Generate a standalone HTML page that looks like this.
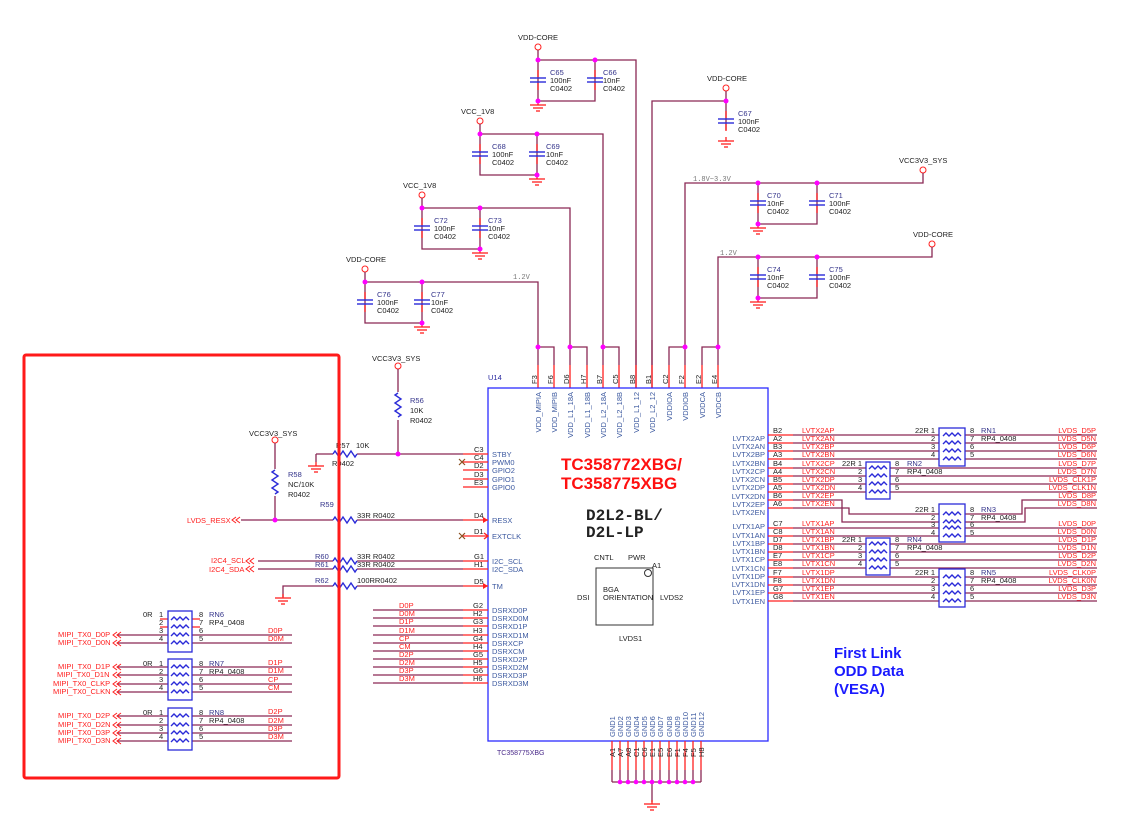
<!DOCTYPE html>
<html><head><meta charset="utf-8"><style>
html,body{margin:0;padding:0;background:#fff;}
svg{display:block;font-family:"Liberation Sans",sans-serif;}
.w{stroke:#8a2855;stroke-width:1.3;fill:none}
.p{stroke:#ff2020;stroke-width:1.3;fill:none}
.b{stroke:#2b2bd8;stroke-width:1.4;fill:none}
.t{font-size:7.5px;fill:#222}
.bl{font-size:7.5px;fill:#3d5aa0}
.cl{font-size:7.5px;fill:#33338a}
.r{font-size:7.5px;fill:#ff2020}
.dot{fill:#ff00ff}
</style></head><body>
<svg width="1132" height="829" viewBox="0 0 1132 829" xmlns="http://www.w3.org/2000/svg">
<defs>
<g id="cap"><line class="b" x1="-8" y1="-2" x2="8" y2="-2"/><line class="b" x1="-8" y1="2" x2="8" y2="2"/><line class="p" x1="0" y1="-10" x2="0" y2="-3"/><line class="p" x1="0" y1="3" x2="0" y2="10"/></g>
<g id="gnd"><line class="p" x1="0" y1="0" x2="0" y2="4"/><line class="p" x1="-8" y1="4" x2="8" y2="4"/><line class="p" x1="-5" y1="7" x2="5" y2="7"/><line class="p" x1="-2" y1="10" x2="2" y2="10"/></g>
<g id="rh"><path class="b" d="M0,0 l2,-3 l4,6 l4,-6 l4,6 l4,-6 l4,6 l2,-3"/></g>
<g id="rv"><path class="b" d="M0,0 l-3,2 l6,4 l-6,4 l6,4 l-6,4 l6,4 l-3,2"/></g>
<g id="zz"><path class="b" d="M3,0 l3,-3 l3,3 l3,-3 l3,3 l3,-3 l3,3"/></g>
</defs>

<!-- ========== top decoupling groups ========== -->
<!-- G1 VDD-CORE C65 C66 -->
<text class="t" x="518" y="40">VDD-CORE</text>
<circle cx="538" cy="47" r="3" fill="#fff" stroke="#ff2020"/>
<path class="w" d="M538,50 V101 M538,60 H636 V388 M595,60 V101 H538"/>
<use href="#cap" x="538" y="80"/><use href="#cap" x="595" y="80"/>
<use href="#gnd" x="538" y="101"/>
<circle class="dot" cx="538" cy="60" r="2.5"/><circle class="dot" cx="595" cy="60" r="2.5"/><circle class="dot" cx="538" cy="101" r="2.5"/>
<text class="cl" x="550" y="75">C65</text><text class="t" x="550" y="83">100nF</text><text class="t" x="550" y="91">C0402</text>
<text class="cl" x="603" y="75">C66</text><text class="t" x="603" y="83">10nF</text><text class="t" x="603" y="91">C0402</text>

<!-- C67 -->
<text class="t" x="707" y="81">VDD-CORE</text>
<circle cx="726" cy="88" r="3" fill="#fff" stroke="#ff2020"/>
<path class="w" d="M726,91 V130 M726,101 H652 V388"/>
<use href="#cap" x="726" y="121"/><use href="#gnd" x="726" y="137"/>
<circle class="dot" cx="726" cy="101" r="2.5"/>
<text class="cl" x="738" y="116">C67</text><text class="t" x="738" y="124">100nF</text><text class="t" x="738" y="132">C0402</text>

<!-- G2 VCC_1V8 C68 C69 -->
<text class="t" x="461" y="114">VCC_1V8</text>
<circle cx="480" cy="121" r="3" fill="#fff" stroke="#ff2020"/>
<path class="w" d="M480,124 V175 H537 M480,134 H603 V347 M537,134 V175"/>
<use href="#cap" x="480" y="154"/><use href="#cap" x="537" y="154"/>
<use href="#gnd" x="537" y="175"/>
<circle class="dot" cx="480" cy="134" r="2.5"/><circle class="dot" cx="537" cy="134" r="2.5"/><circle class="dot" cx="537" cy="175" r="2.5"/>
<text class="cl" x="492" y="149">C68</text><text class="t" x="492" y="157">100nF</text><text class="t" x="492" y="165">C0402</text>
<text class="cl" x="546" y="149">C69</text><text class="t" x="546" y="157">10nF</text><text class="t" x="546" y="165">C0402</text>

<!-- G3 VCC_1V8 C72 C73 -->
<text class="t" x="403" y="188">VCC_1V8</text>
<circle cx="422" cy="195" r="3" fill="#fff" stroke="#ff2020"/>
<path class="w" d="M422,198 V249 H480 M422,208 H570 V347 M480,208 V249"/>
<use href="#cap" x="422" y="228"/><use href="#cap" x="480" y="228"/>
<use href="#gnd" x="480" y="249"/>
<circle class="dot" cx="422" cy="208" r="2.5"/><circle class="dot" cx="480" cy="208" r="2.5"/><circle class="dot" cx="480" cy="249" r="2.5"/>
<text class="cl" x="434" y="223">C72</text><text class="t" x="434" y="231">100nF</text><text class="t" x="434" y="239">C0402</text>
<text class="cl" x="488" y="223">C73</text><text class="t" x="488" y="231">10nF</text><text class="t" x="488" y="239">C0402</text>

<!-- G4 VDD-CORE C76 C77 -->
<text class="t" x="346" y="262">VDD-CORE</text>
<circle cx="365" cy="269" r="3" fill="#fff" stroke="#ff2020"/>
<path class="w" d="M365,272 V323 H422 M365,282 H538 V347 M422,282 V323"/>
<use href="#cap" x="365" y="302"/><use href="#cap" x="422" y="302"/>
<use href="#gnd" x="422" y="323"/>
<circle class="dot" cx="365" cy="282" r="2.5"/><circle class="dot" cx="422" cy="282" r="2.5"/><circle class="dot" cx="422" cy="323" r="2.5"/>
<text class="cl" x="377" y="297">C76</text><text class="t" x="377" y="305">100nF</text><text class="t" x="377" y="313">C0402</text>
<text class="cl" x="431" y="297">C77</text><text class="t" x="431" y="305">10nF</text><text class="t" x="431" y="313">C0402</text>
<text x="513" y="279" style="font-family:'Liberation Mono',monospace;font-size:7px;fill:#777">1.2V</text>

<!-- G5 VCC3V3_SYS C70 C71 -->
<text class="t" x="899" y="163">VCC3V3_SYS</text>
<circle cx="923" cy="170" r="3" fill="#fff" stroke="#ff2020"/>
<path class="w" d="M923,173 V183 H685 V347 M758,183 V224 H817 V183"/>
<use href="#cap" x="758" y="203"/><use href="#cap" x="817" y="203"/>
<use href="#gnd" x="758" y="224"/>
<circle class="dot" cx="758" cy="183" r="2.5"/><circle class="dot" cx="817" cy="183" r="2.5"/><circle class="dot" cx="758" cy="224" r="2.5"/>
<text class="cl" x="767" y="198">C70</text><text class="t" x="767" y="206">10nF</text><text class="t" x="767" y="214">C0402</text>
<text class="cl" x="829" y="198">C71</text><text class="t" x="829" y="206">100nF</text><text class="t" x="829" y="214">C0402</text>
<text x="693" y="181" style="font-family:'Liberation Mono',monospace;font-size:7px;fill:#777">1.8V~3.3V</text>

<!-- G6 VDD-CORE C74 C75 -->
<text class="t" x="913" y="237">VDD-CORE</text>
<circle cx="932" cy="244" r="3" fill="#fff" stroke="#ff2020"/>
<path class="w" d="M932,247 V257 H718 V347 M758,257 V298 H817 V257"/>
<use href="#cap" x="758" y="277"/><use href="#cap" x="817" y="277"/>
<use href="#gnd" x="758" y="298"/>
<circle class="dot" cx="758" cy="257" r="2.5"/><circle class="dot" cx="817" cy="257" r="2.5"/><circle class="dot" cx="758" cy="298" r="2.5"/>
<text class="cl" x="767" y="272">C74</text><text class="t" x="767" y="280">10nF</text><text class="t" x="767" y="288">C0402</text>
<text class="cl" x="829" y="272">C75</text><text class="t" x="829" y="280">100nF</text><text class="t" x="829" y="288">C0402</text>
<text x="720" y="255" style="font-family:'Liberation Mono',monospace;font-size:7px;fill:#777">1.2V</text>

<!-- pin pair connections at y=347 -->
<path class="w" d="M538,347 H554 V365 M570,347 H587 V365 M603,347 H619 V365 M669,365 V347 H685 M702,365 V347 H718 M538,347 V365 M570,347 V365 M603,347 V365 M685,347 V365 M718,347 V365 M636,340 V365 M652,340 V365"/>
<circle class="dot" cx="538" cy="347" r="2.5"/><circle class="dot" cx="570" cy="347" r="2.5"/><circle class="dot" cx="603" cy="347" r="2.5"/><circle class="dot" cx="685" cy="347" r="2.5"/><circle class="dot" cx="718" cy="347" r="2.5"/>
<path class="p" d="M538,365 V388 M554,365 V388 M570,365 V388 M587,365 V388 M603,365 V388 M619,365 V388 M636,365 V388 M652,365 V388 M669,365 V388 M685,365 V388 M702,365 V388 M718,365 V388"/>

<!-- top pin labels -->
<g class="t">
<text transform="translate(537,384) rotate(-90)" class="t">F3</text>
<text transform="translate(553,384) rotate(-90)" class="t">F6</text>
<text transform="translate(569,384) rotate(-90)" class="t">D6</text>
<text transform="translate(586,384) rotate(-90)" class="t">H7</text>
<text transform="translate(602,384) rotate(-90)" class="t">B7</text>
<text transform="translate(618,384) rotate(-90)" class="t">C5</text>
<text transform="translate(635,384) rotate(-90)" class="t">B8</text>
<text transform="translate(651,384) rotate(-90)" class="t">B1</text>
<text transform="translate(668,384) rotate(-90)" class="t">C2</text>
<text transform="translate(684,384) rotate(-90)" class="t">F2</text>
<text transform="translate(701,384) rotate(-90)" class="t">E2</text>
<text transform="translate(717,384) rotate(-90)" class="t">E4</text>
</g>
<g text-anchor="end">
<text transform="translate(541,392) rotate(-90)" class="bl">VDD_MIPIA</text>
<text transform="translate(557,392) rotate(-90)" class="bl">VDD_MIPIB</text>
<text transform="translate(573,392) rotate(-90)" class="bl">VDD_L1_18A</text>
<text transform="translate(590,392) rotate(-90)" class="bl">VDD_L1_18B</text>
<text transform="translate(606,392) rotate(-90)" class="bl">VDD_L2_18A</text>
<text transform="translate(622,392) rotate(-90)" class="bl">VDD_L2_18B</text>
<text transform="translate(639,392) rotate(-90)" class="bl">VDD_L1_12</text>
<text transform="translate(655,392) rotate(-90)" class="bl">VDD_L2_12</text>
<text transform="translate(672,392) rotate(-90)" class="bl">VDDIOA</text>
<text transform="translate(688,392) rotate(-90)" class="bl">VDDIOB</text>
<text transform="translate(705,392) rotate(-90)" class="bl">VDDCA</text>
<text transform="translate(721,392) rotate(-90)" class="bl">VDDCB</text>
</g>

<!-- ========== chip body ========== -->
<rect x="488" y="388" width="280" height="353" fill="none" stroke="#2b2bff" stroke-width="1.3"/>
<text x="488" y="380" style="font-size:7.5px;fill:#2a2aa0">U14</text>
<text x="497" y="755" style="font-size:7px;fill:#4a2a8a">TC358775XBG</text>
<text x="561" y="470" style="font-size:17px;font-weight:bold;fill:#ff1010">TC358772XBG/</text>
<text x="561" y="489" style="font-size:17px;font-weight:bold;fill:#ff1010">TC358775XBG</text>
<text x="586" y="520" style="font-family:'Liberation Mono',monospace;font-size:16px;font-weight:bold;fill:#222">D2L2-BL/</text>
<text x="586" y="537" style="font-family:'Liberation Mono',monospace;font-size:16px;font-weight:bold;fill:#222">D2L-LP</text>
<text class="t" x="594" y="560">CNTL</text><text class="t" x="628" y="560">PWR</text>
<rect x="596" y="568" width="57" height="57" fill="none" stroke="#333" stroke-width="1"/>
<circle cx="648" cy="573" r="3.5" fill="none" stroke="#333"/>
<text class="t" x="652" y="568">A1</text>
<text class="t" x="603" y="592">BGA</text><text class="t" x="603" y="600">ORIENTATION</text>
<text class="t" x="577" y="600">DSI</text><text class="t" x="660" y="600">LVDS2</text>
<text class="t" x="619" y="641">LVDS1</text>

<!-- left chip pins -->
<path class="p" d="M463,454 H488 M463,462 H488 M463,470 H488 M463,479 H488 M463,487 H488 M463,520 H488 M463,536 H488 M463,561 H488 M463,569 H488 M463,586 H488"/>
<path d="M483,517 l5,3 l-5,3z M483,583 l5,3 l-5,3z" fill="#ff2020"/>
<path d="M484,533 l4,3 l-4,3" class="p"/>
<path d="M459,459 l6,6 M465,459 l-6,6 M459,533 l6,6 M465,533 l-6,6" stroke="#8a5020" stroke-width="1.2"/>
<g class="t">
<text x="474" y="452">C3</text><text x="474" y="460">C4</text><text x="474" y="468">D2</text><text x="474" y="477">D3</text><text x="474" y="485">E3</text>
<text x="474" y="518">D4</text><text x="474" y="534">D1</text><text x="474" y="559">G1</text><text x="474" y="567">H1</text><text x="474" y="584">D5</text>
</g>
<g class="bl">
<text x="492" y="457">STBY</text><text x="492" y="465">PWM0</text><text x="492" y="473">GPIO2</text><text x="492" y="482">GPIO1</text><text x="492" y="490">GPIO0</text>
<text x="492" y="523">RESX</text><text x="492" y="539">EXTCLK</text><text x="492" y="564">I2C_SCL</text><text x="492" y="572">I2C_SDA</text><text x="492" y="589">TM</text>
</g>

<!-- DSRX pins -->
<path class="w" d="M373,610 H463 M373,618 H463 M373,626 H463 M373,635 H463 M373,643 H463 M373,651 H463 M373,659 H463 M373,667 H463 M373,675 H463 M373,683 H463"/>
<path class="p" d="M463,610 H488 M463,618 H488 M463,626 H488 M463,635 H488 M463,643 H488 M463,651 H488 M463,659 H488 M463,667 H488 M463,675 H488 M463,683 H488"/>
<g class="r">
<text x="399" y="608">D0P</text><text x="399" y="616">D0M</text><text x="399" y="624">D1P</text><text x="399" y="633">D1M</text><text x="399" y="641">CP</text><text x="399" y="649">CM</text><text x="399" y="657">D2P</text><text x="399" y="665">D2M</text><text x="399" y="673">D3P</text><text x="399" y="681">D3M</text>
</g>
<g class="t">
<text x="473" y="608">G2</text><text x="473" y="616">H2</text><text x="473" y="624">G3</text><text x="473" y="633">H3</text><text x="473" y="641">G4</text><text x="473" y="649">H4</text><text x="473" y="657">G5</text><text x="473" y="665">H5</text><text x="473" y="673">G6</text><text x="473" y="681">H6</text>
</g>
<g class="bl">
<text x="492" y="613">DSRXD0P</text><text x="492" y="621">DSRXD0M</text><text x="492" y="629">DSRXD1P</text><text x="492" y="638">DSRXD1M</text><text x="492" y="646">DSRXCP</text><text x="492" y="654">DSRXCM</text><text x="492" y="662">DSRXD2P</text><text x="492" y="670">DSRXD2M</text><text x="492" y="678">DSRXD3P</text><text x="492" y="686">DSRXD3M</text>
</g>

<!-- STBY / R56 / R57 -->
<text class="t" x="372" y="361">VCC3V3_SYS</text>
<circle cx="398" cy="366" r="3" fill="#fff" stroke="#ff2020"/>
<path class="w" d="M398,369 V392 M398,420 V454 M316,454 V462 M316,454 H333 M357,454 H463"/>
<use href="#rv" x="398" y="393"/>
<use href="#rh" x="333" y="454"/>
<use href="#gnd" x="316" y="462"/>
<circle class="dot" cx="398" cy="454" r="2.5"/>
<text class="cl" x="410" y="403">R56</text><text class="t" x="410" y="413">10K</text><text class="t" x="410" y="423">R0402</text>
<text class="t" x="336" y="448">R57</text><text class="t" x="356" y="448">10K</text><text class="t" x="332" y="466">R0402</text>

<!-- R58 / RESX -->
<text class="t" x="249" y="436">VCC3V3_SYS</text>
<circle cx="275" cy="440" r="3" fill="#fff" stroke="#ff2020"/>
<path class="w" d="M275,443 V469 M275,496 V520 M241,520 H333 M357,520 H463"/>
<use href="#rv" x="275" y="470"/>
<use href="#rh" x="333" y="520"/>
<circle class="dot" cx="275" cy="520" r="2.5"/>
<text class="cl" x="288" y="477">R58</text><text class="t" x="288" y="487">NC/10K</text><text class="t" x="288" y="497">R0402</text>
<text class="cl" x="320" y="507">R59</text><text class="t" x="357" y="518">33R R0402</text>
<text class="r" x="187" y="523">LVDS_RESX</text>
<path d="M236,517 l-4,3 l4,3 M240,517 l-4,3 l4,3" stroke="#ff2020" fill="none" stroke-width="1"/>

<!-- I2C / TM -->
<path class="w" d="M258,561 H333 M357,561 H463 M258,569 H333 M357,569 H463 M283,597 V586 H333 M357,586 H463"/>
<use href="#rh" x="333" y="561"/><use href="#rh" x="333" y="569"/><use href="#rh" x="333" y="586"/>
<use href="#gnd" x="283" y="594"/>
<text class="cl" x="315" y="559">R60</text><text class="t" x="357" y="559">33R R0402</text>
<text class="cl" x="315" y="567">R61</text><text class="t" x="357" y="567">33R R0402</text>
<text class="cl" x="315" y="583">R62</text><text class="t" x="357" y="583">100RR0402</text>
<text class="r" x="211" y="563">I2C4_SCL</text><text class="r" x="209" y="572">I2C4_SDA</text>
<path d="M250,558 l-4,3 l4,3 M254,558 l-4,3 l4,3 M250,566 l-4,3 l4,3 M254,566 l-4,3 l4,3" stroke="#ff2020" fill="none" stroke-width="1"/>

<!-- MIPI resistor networks -->
<!-- RN6 -->
<path class="w" d="M117,635 H168 M117,643 H168 M192,635 H292 M192,643 H292"/>
<path class="p" d="M160,619 H168 M160,627 H168 M192,619 H200 M192,627 H200"/>
<rect x="168" y="611" width="24" height="41" fill="#fff" stroke="#2b2bd8" stroke-width="1.3"/>
<use href="#zz" x="168" y="620"/><use href="#zz" x="168" y="628"/><use href="#zz" x="168" y="636"/><use href="#zz" x="168" y="644"/>
<text class="t" x="143" y="617">0R</text>
<g class="t"><text x="159" y="617">1</text><text x="159" y="625">2</text><text x="159" y="633">3</text><text x="159" y="641">4</text><text x="199" y="617">8</text><text x="199" y="625">7</text><text x="199" y="633">6</text><text x="199" y="641">5</text></g>
<text class="cl" x="209" y="617">RN6</text><text class="t" x="209" y="625">RP4_0408</text>
<text class="r" x="268" y="633">D0P</text><text class="r" x="268" y="641">D0M</text>
<text class="r" x="58" y="637">MIPI_TX0_D0P</text><text class="r" x="58" y="645">MIPI_TX0_D0N</text>
<!-- RN7 -->
<path class="w" d="M117,667 H168 M117,675 H168 M117,684 H168 M117,692 H168 M192,667 H292 M192,675 H292 M192,684 H292 M192,692 H292"/>
<rect x="168" y="659" width="24" height="41" fill="#fff" stroke="#2b2bd8" stroke-width="1.3"/>
<use href="#zz" x="168" y="668"/><use href="#zz" x="168" y="676"/><use href="#zz" x="168" y="685"/><use href="#zz" x="168" y="693"/>
<text class="t" x="143" y="666">0R</text>
<g class="t"><text x="159" y="666">1</text><text x="159" y="674">2</text><text x="159" y="682">3</text><text x="159" y="690">4</text><text x="199" y="666">8</text><text x="199" y="674">7</text><text x="199" y="682">6</text><text x="199" y="690">5</text></g>
<text class="cl" x="209" y="666">RN7</text><text class="t" x="209" y="674">RP4_0408</text>
<text class="r" x="268" y="665">D1P</text><text class="r" x="268" y="673">D1M</text><text class="r" x="268" y="682">CP</text><text class="r" x="268" y="690">CM</text>
<text class="r" x="58" y="669">MIPI_TX0_D1P</text><text class="r" x="57" y="677">MIPI_TX0_D1N</text><text class="r" x="53" y="686">MIPI_TX0_CLKP</text><text class="r" x="53" y="694">MIPI_TX0_CLKN</text>
<!-- RN8 -->
<path class="w" d="M117,716 H168 M117,725 H168 M117,733 H168 M117,741 H168 M192,716 H292 M192,725 H292 M192,733 H292 M192,741 H292"/>
<rect x="168" y="708" width="24" height="42" fill="#fff" stroke="#2b2bd8" stroke-width="1.3"/>
<use href="#zz" x="168" y="717"/><use href="#zz" x="168" y="726"/><use href="#zz" x="168" y="734"/><use href="#zz" x="168" y="742"/>
<text class="t" x="143" y="715">0R</text>
<g class="t"><text x="159" y="715">1</text><text x="159" y="723">2</text><text x="159" y="731">3</text><text x="159" y="739">4</text><text x="199" y="715">8</text><text x="199" y="723">7</text><text x="199" y="731">6</text><text x="199" y="739">5</text></g>
<text class="cl" x="209" y="715">RN8</text><text class="t" x="209" y="723">RP4_0408</text>
<text class="r" x="268" y="714">D2P</text><text class="r" x="268" y="723">D2M</text><text class="r" x="268" y="731">D3P</text><text class="r" x="268" y="739">D3M</text>
<text class="r" x="58" y="718">MIPI_TX0_D2P</text><text class="r" x="58" y="727">MIPI_TX0_D2N</text><text class="r" x="58" y="735">MIPI_TX0_D3P</text><text class="r" x="58" y="743">MIPI_TX0_D3N</text>
<path d="M117,632 l-4,3 l4,3 M121,632 l-4,3 l4,3 M117,640 l-4,3 l4,3 M121,640 l-4,3 l4,3
M117,664 l-4,3 l4,3 M121,664 l-4,3 l4,3 M117,672 l-4,3 l4,3 M121,672 l-4,3 l4,3 M117,681 l-4,3 l4,3 M121,681 l-4,3 l4,3 M117,689 l-4,3 l4,3 M121,689 l-4,3 l4,3
M117,713 l-4,3 l4,3 M121,713 l-4,3 l4,3 M117,722 l-4,3 l4,3 M121,722 l-4,3 l4,3 M117,730 l-4,3 l4,3 M121,730 l-4,3 l4,3 M117,738 l-4,3 l4,3 M121,738 l-4,3 l4,3" stroke="#ff2020" fill="none" stroke-width="1"/>

<!-- red highlight box -->
<rect x="24" y="355" width="315" height="423" rx="2" fill="none" stroke="#ff1a1a" stroke-width="3"/>

<!-- ========== right side LVDS ========== -->
<path class="w" d="M793,435 H1097 M793,443 H1097 M793,451 H1097 M793,459 H1097 M793,468 H1097 M793,476 H1097 M793,484 H1097 M793,492 H1097
M793,500 H842 V522 H939 M793,508 H849 V514 H939 M965,514 H1022 V500 H1097 M965,522 H1025 V508 H1097
M793,528 H1097 M793,536 H1097 M793,544 H1097 M793,552 H1097 M793,560 H1097 M793,568 H1097 M793,577 H1097 M793,585 H1097 M793,593 H1097 M793,601 H1097"/>
<path class="p" d="M768,435 H793 M768,443 H793 M768,451 H793 M768,459 H793 M768,468 H793 M768,476 H793 M768,484 H793 M768,492 H793 M768,500 H793 M768,508 H793 M768,528 H793 M768,536 H793 M768,544 H793 M768,552 H793 M768,560 H793 M768,568 H793 M768,577 H793 M768,585 H793 M768,593 H793 M768,601 H793"/>
<g class="t">
<text x="773" y="433">B2</text><text x="773" y="441">A2</text><text x="773" y="449">B3</text><text x="773" y="457">A3</text><text x="773" y="466">B4</text><text x="773" y="474">A4</text><text x="773" y="482">B5</text><text x="773" y="490">A5</text><text x="773" y="498">B6</text><text x="773" y="506">A6</text>
<text x="773" y="526">C7</text><text x="773" y="534">C8</text><text x="773" y="542">D7</text><text x="773" y="550">D8</text><text x="773" y="558">E7</text><text x="773" y="566">E8</text><text x="773" y="575">F7</text><text x="773" y="583">F8</text><text x="773" y="591">G7</text><text x="773" y="599">G8</text>
</g>
<g class="r">
<text x="802" y="433">LVTX2AP</text><text x="802" y="441">LVTX2AN</text><text x="802" y="449">LVTX2BP</text><text x="802" y="457">LVTX2BN</text><text x="802" y="466">LVTX2CP</text><text x="802" y="474">LVTX2CN</text><text x="802" y="482">LVTX2DP</text><text x="802" y="490">LVTX2DN</text><text x="802" y="498">LVTX2EP</text><text x="802" y="506">LVTX2EN</text>
<text x="802" y="526">LVTX1AP</text><text x="802" y="534">LVTX1AN</text><text x="802" y="542">LVTX1BP</text><text x="802" y="550">LVTX1BN</text><text x="802" y="558">LVTX1CP</text><text x="802" y="566">LVTX1CN</text><text x="802" y="575">LVTX1DP</text><text x="802" y="583">LVTX1DN</text><text x="802" y="591">LVTX1EP</text><text x="802" y="599">LVTX1EN</text>
</g>
<g class="r" text-anchor="end">
<text x="1096" y="433">LVDS_D5P</text><text x="1096" y="441">LVDS_D5N</text><text x="1096" y="449">LVDS_D6P</text><text x="1096" y="457">LVDS_D6N</text><text x="1096" y="466">LVDS_D7P</text><text x="1096" y="474">LVDS_D7N</text><text x="1096" y="482">LVDS_CLK1P</text><text x="1096" y="490">LVDS_CLK1N</text><text x="1096" y="498">LVDS_D8P</text><text x="1096" y="506">LVDS_D8N</text>
<text x="1096" y="526">LVDS_D0P</text><text x="1096" y="534">LVDS_D0N</text><text x="1096" y="542">LVDS_D1P</text><text x="1096" y="550">LVDS_D1N</text><text x="1096" y="558">LVDS_D2P</text><text x="1096" y="566">LVDS_D2N</text><text x="1096" y="575">LVDS_CLK0P</text><text x="1096" y="583">LVDS_CLK0N</text><text x="1096" y="591">LVDS_D3P</text><text x="1096" y="599">LVDS_D3N</text>
</g>
<g class="bl" text-anchor="end">
<text x="765" y="441">LVTX2AP</text><text x="765" y="449">LVTX2AN</text><text x="765" y="457">LVTX2BP</text><text x="765" y="466">LVTX2BN</text><text x="765" y="474">LVTX2CP</text><text x="765" y="482">LVTX2CN</text><text x="765" y="490">LVTX2DP</text><text x="765" y="499">LVTX2DN</text><text x="765" y="507">LVTX2EP</text><text x="765" y="515">LVTX2EN</text>
<text x="765" y="529">LVTX1AP</text><text x="765" y="538">LVTX1AN</text><text x="765" y="546">LVTX1BP</text><text x="765" y="554">LVTX1BN</text><text x="765" y="562">LVTX1CP</text><text x="765" y="571">LVTX1CN</text><text x="765" y="579">LVTX1DP</text><text x="765" y="587">LVTX1DN</text><text x="765" y="595">LVTX1EP</text><text x="765" y="604">LVTX1EN</text>
</g>

<!-- RN1 -->
<rect x="939" y="428" width="26" height="38" fill="#fff" stroke="#2b2bd8" stroke-width="1.3"/>
<use href="#zz" x="940" y="436"/><use href="#zz" x="940" y="444"/><use href="#zz" x="940" y="452"/><use href="#zz" x="940" y="460"/>
<text class="t" x="915" y="433">22R 1</text><text class="t" x="931" y="441">2</text><text class="t" x="931" y="449">3</text><text class="t" x="931" y="457">4</text>
<text class="t" x="970" y="433">8</text><text class="t" x="970" y="441">7</text><text class="t" x="970" y="449">6</text><text class="t" x="970" y="457">5</text>
<text class="cl" x="981" y="433">RN1</text><text class="t" x="981" y="441">RP4_0408</text>
<!-- RN2 -->
<rect x="866" y="462" width="24" height="37" fill="#fff" stroke="#2b2bd8" stroke-width="1.3"/>
<use href="#zz" x="866" y="469"/><use href="#zz" x="866" y="477"/><use href="#zz" x="866" y="485"/><use href="#zz" x="866" y="493"/>
<text class="t" x="842" y="466">22R 1</text><text class="t" x="858" y="474">2</text><text class="t" x="858" y="482">3</text><text class="t" x="858" y="490">4</text>
<text class="t" x="895" y="466">8</text><text class="t" x="895" y="474">7</text><text class="t" x="895" y="482">6</text><text class="t" x="895" y="490">5</text>
<text class="cl" x="907" y="466">RN2</text><text class="t" x="907" y="474">RP4_0408</text>
<!-- RN3 -->
<rect x="939" y="504" width="26" height="38" fill="#fff" stroke="#2b2bd8" stroke-width="1.3"/>
<use href="#zz" x="940" y="515"/><use href="#zz" x="940" y="523"/><use href="#zz" x="940" y="529"/><use href="#zz" x="940" y="537"/>
<text class="t" x="915" y="512">22R 1</text><text class="t" x="931" y="520">2</text><text class="t" x="931" y="527">3</text><text class="t" x="931" y="535">4</text>
<text class="t" x="970" y="512">8</text><text class="t" x="970" y="520">7</text><text class="t" x="970" y="527">6</text><text class="t" x="970" y="535">5</text>
<text class="cl" x="981" y="512">RN3</text><text class="t" x="981" y="520">RP4_0408</text>
<!-- RN4 -->
<rect x="866" y="538" width="24" height="37" fill="#fff" stroke="#2b2bd8" stroke-width="1.3"/>
<use href="#zz" x="866" y="545"/><use href="#zz" x="866" y="553"/><use href="#zz" x="866" y="561"/><use href="#zz" x="866" y="569"/>
<text class="t" x="842" y="542">22R 1</text><text class="t" x="858" y="550">2</text><text class="t" x="858" y="558">3</text><text class="t" x="858" y="566">4</text>
<text class="t" x="895" y="542">8</text><text class="t" x="895" y="550">7</text><text class="t" x="895" y="558">6</text><text class="t" x="895" y="566">5</text>
<text class="cl" x="907" y="542">RN4</text><text class="t" x="907" y="550">RP4_0408</text>
<!-- RN5 -->
<rect x="939" y="569" width="26" height="38" fill="#fff" stroke="#2b2bd8" stroke-width="1.3"/>
<use href="#zz" x="940" y="578"/><use href="#zz" x="940" y="586"/><use href="#zz" x="940" y="594"/><use href="#zz" x="940" y="602"/>
<text class="t" x="915" y="575">22R 1</text><text class="t" x="931" y="583">2</text><text class="t" x="931" y="591">3</text><text class="t" x="931" y="599">4</text>
<text class="t" x="970" y="575">8</text><text class="t" x="970" y="583">7</text><text class="t" x="970" y="591">6</text><text class="t" x="970" y="599">5</text>
<text class="cl" x="981" y="575">RN5</text><text class="t" x="981" y="583">RP4_0408</text>

<text x="834" y="658" style="font-size:15px;font-weight:bold;fill:#1a1aff">First Link</text>
<text x="834" y="676" style="font-size:15px;font-weight:bold;fill:#1a1aff">ODD Data</text>
<text x="834" y="694" style="font-size:15px;font-weight:bold;fill:#1a1aff">(VESA)</text>

<!-- ========== bottom GND pins ========== -->
<path class="p" d="M612,741 V770 M620,741 V770 M628,741 V770 M636,741 V770 M644,741 V770 M652,741 V770 M660,741 V770 M669,741 V770 M677,741 V770 M685,741 V770 M693,741 V770 M701,741 V770"/>
<path class="w" d="M612,770 V782 M620,770 V782 M628,770 V782 M636,770 V782 M644,770 V782 M652,770 V782 M660,770 V782 M669,770 V782 M677,770 V782 M685,770 V782 M693,770 V782 M701,770 V782 M612,782 H701 M652,782 V802"/>
<use href="#gnd" x="652" y="800"/>
<g class="dot"><circle cx="620" cy="782" r="2.3"/><circle cx="628" cy="782" r="2.3"/><circle cx="636" cy="782" r="2.3"/><circle cx="644" cy="782" r="2.3"/><circle cx="652" cy="782" r="2.3"/><circle cx="660" cy="782" r="2.3"/><circle cx="669" cy="782" r="2.3"/><circle cx="677" cy="782" r="2.3"/><circle cx="685" cy="782" r="2.3"/><circle cx="693" cy="782" r="2.3"/></g>
<g>
<text transform="translate(615,757) rotate(-90)" class="t">A1</text><text transform="translate(623,757) rotate(-90)" class="t">A7</text><text transform="translate(631,757) rotate(-90)" class="t">A8</text><text transform="translate(639,757) rotate(-90)" class="t">C1</text><text transform="translate(647,757) rotate(-90)" class="t">C6</text><text transform="translate(655,757) rotate(-90)" class="t">E1</text><text transform="translate(663,757) rotate(-90)" class="t">E5</text><text transform="translate(672,757) rotate(-90)" class="t">E6</text><text transform="translate(680,757) rotate(-90)" class="t">F1</text><text transform="translate(688,757) rotate(-90)" class="t">F4</text><text transform="translate(696,757) rotate(-90)" class="t">F5</text><text transform="translate(704,757) rotate(-90)" class="t">H8</text>
</g>
<g>
<text transform="translate(615,737) rotate(-90)" class="bl">GND1</text><text transform="translate(623,737) rotate(-90)" class="bl">GND2</text><text transform="translate(631,737) rotate(-90)" class="bl">GND3</text><text transform="translate(639,737) rotate(-90)" class="bl">GND4</text><text transform="translate(647,737) rotate(-90)" class="bl">GND5</text><text transform="translate(655,737) rotate(-90)" class="bl">GND6</text><text transform="translate(663,737) rotate(-90)" class="bl">GND7</text><text transform="translate(672,737) rotate(-90)" class="bl">GND8</text><text transform="translate(680,737) rotate(-90)" class="bl">GND9</text><text transform="translate(688,737) rotate(-90)" class="bl">GND10</text><text transform="translate(696,737) rotate(-90)" class="bl">GND11</text><text transform="translate(704,737) rotate(-90)" class="bl">GND12</text>
</g>
</svg>
</body></html>
